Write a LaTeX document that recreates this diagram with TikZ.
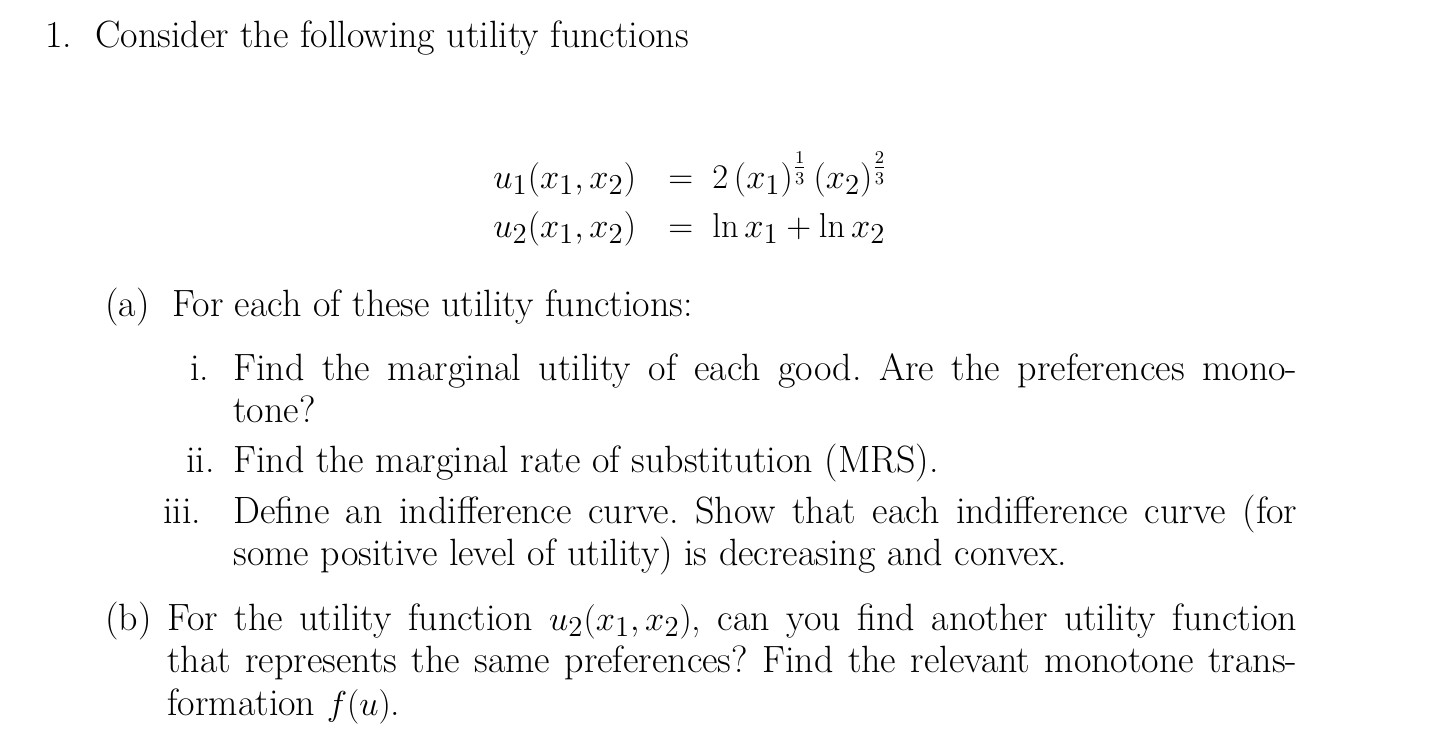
\documentclass[tikz,border=0pt]{standalone}
\usepackage{amsmath}
\begin{document}
\frenchspacing
\begin{tikzpicture}[x=0.5pt,y=-0.5pt,
  txt/.style={anchor=base west,inner sep=0pt,font=\fontsize{19}{23}\selectfont}]
\useasboundingbox (0,0) rectangle (1452,746);
\node[txt] (t1) at (45,47) {1.\ \ Consider the following utility functions};
\node[txt] (l1) at (493,188) {$u_1(x_1,x_2)$};
\node[txt] (e1) at (668,188) {$=$};
\node[txt] (r1) at (712,188) {$2\,(x_1)^{\frac{1}{3}}\,(x_2)^{\frac{2}{3}}$};
\node[txt] (l2) at (493,237) {$u_2(x_1,x_2)$};
\node[txt] (e2) at (668,237) {$=$};
\node[txt] (r2) at (712,237) {$\ln x_1+\ln x_2$};
\node[txt] (a) at (105,316) {(a)\ \ For each of these utility functions:};
\node[txt] (i) at (190,380) {i.};
\node[txt] (i1) at (233,380) {\makebox[532pt][s]{Find the marginal utility of each good. Are the preferences mono-}};
\node[txt] (i2) at (233,422) {tone?};
\node[txt] (ii) at (186,472) {ii.};
\node[txt] (ii1) at (233,472) {Find the marginal rate of substitution (MRS).};
\node[txt] (iii) at (163,523) {iii.};
\node[txt] (iii1) at (233,523) {\makebox[532pt][s]{Define an indifference curve. Show that each indifference curve (for}};
\node[txt] (iii2) at (233,565) {some positive level of utility) is decreasing and convex.};
\node[txt] (b) at (105,630) {(b)};
\node[txt] (b1) at (167,630) {\makebox[565pt][s]{For the utility function $u_2(x_1,x_2)$, can you find another utility function}};
\node[txt] (b2) at (167,672) {\makebox[565pt][s]{that represents the same preferences? Find the relevant monotone trans-}};
\node[txt] (b3) at (167,715) {formation $f(u)$.};
\end{tikzpicture}
\end{document}
